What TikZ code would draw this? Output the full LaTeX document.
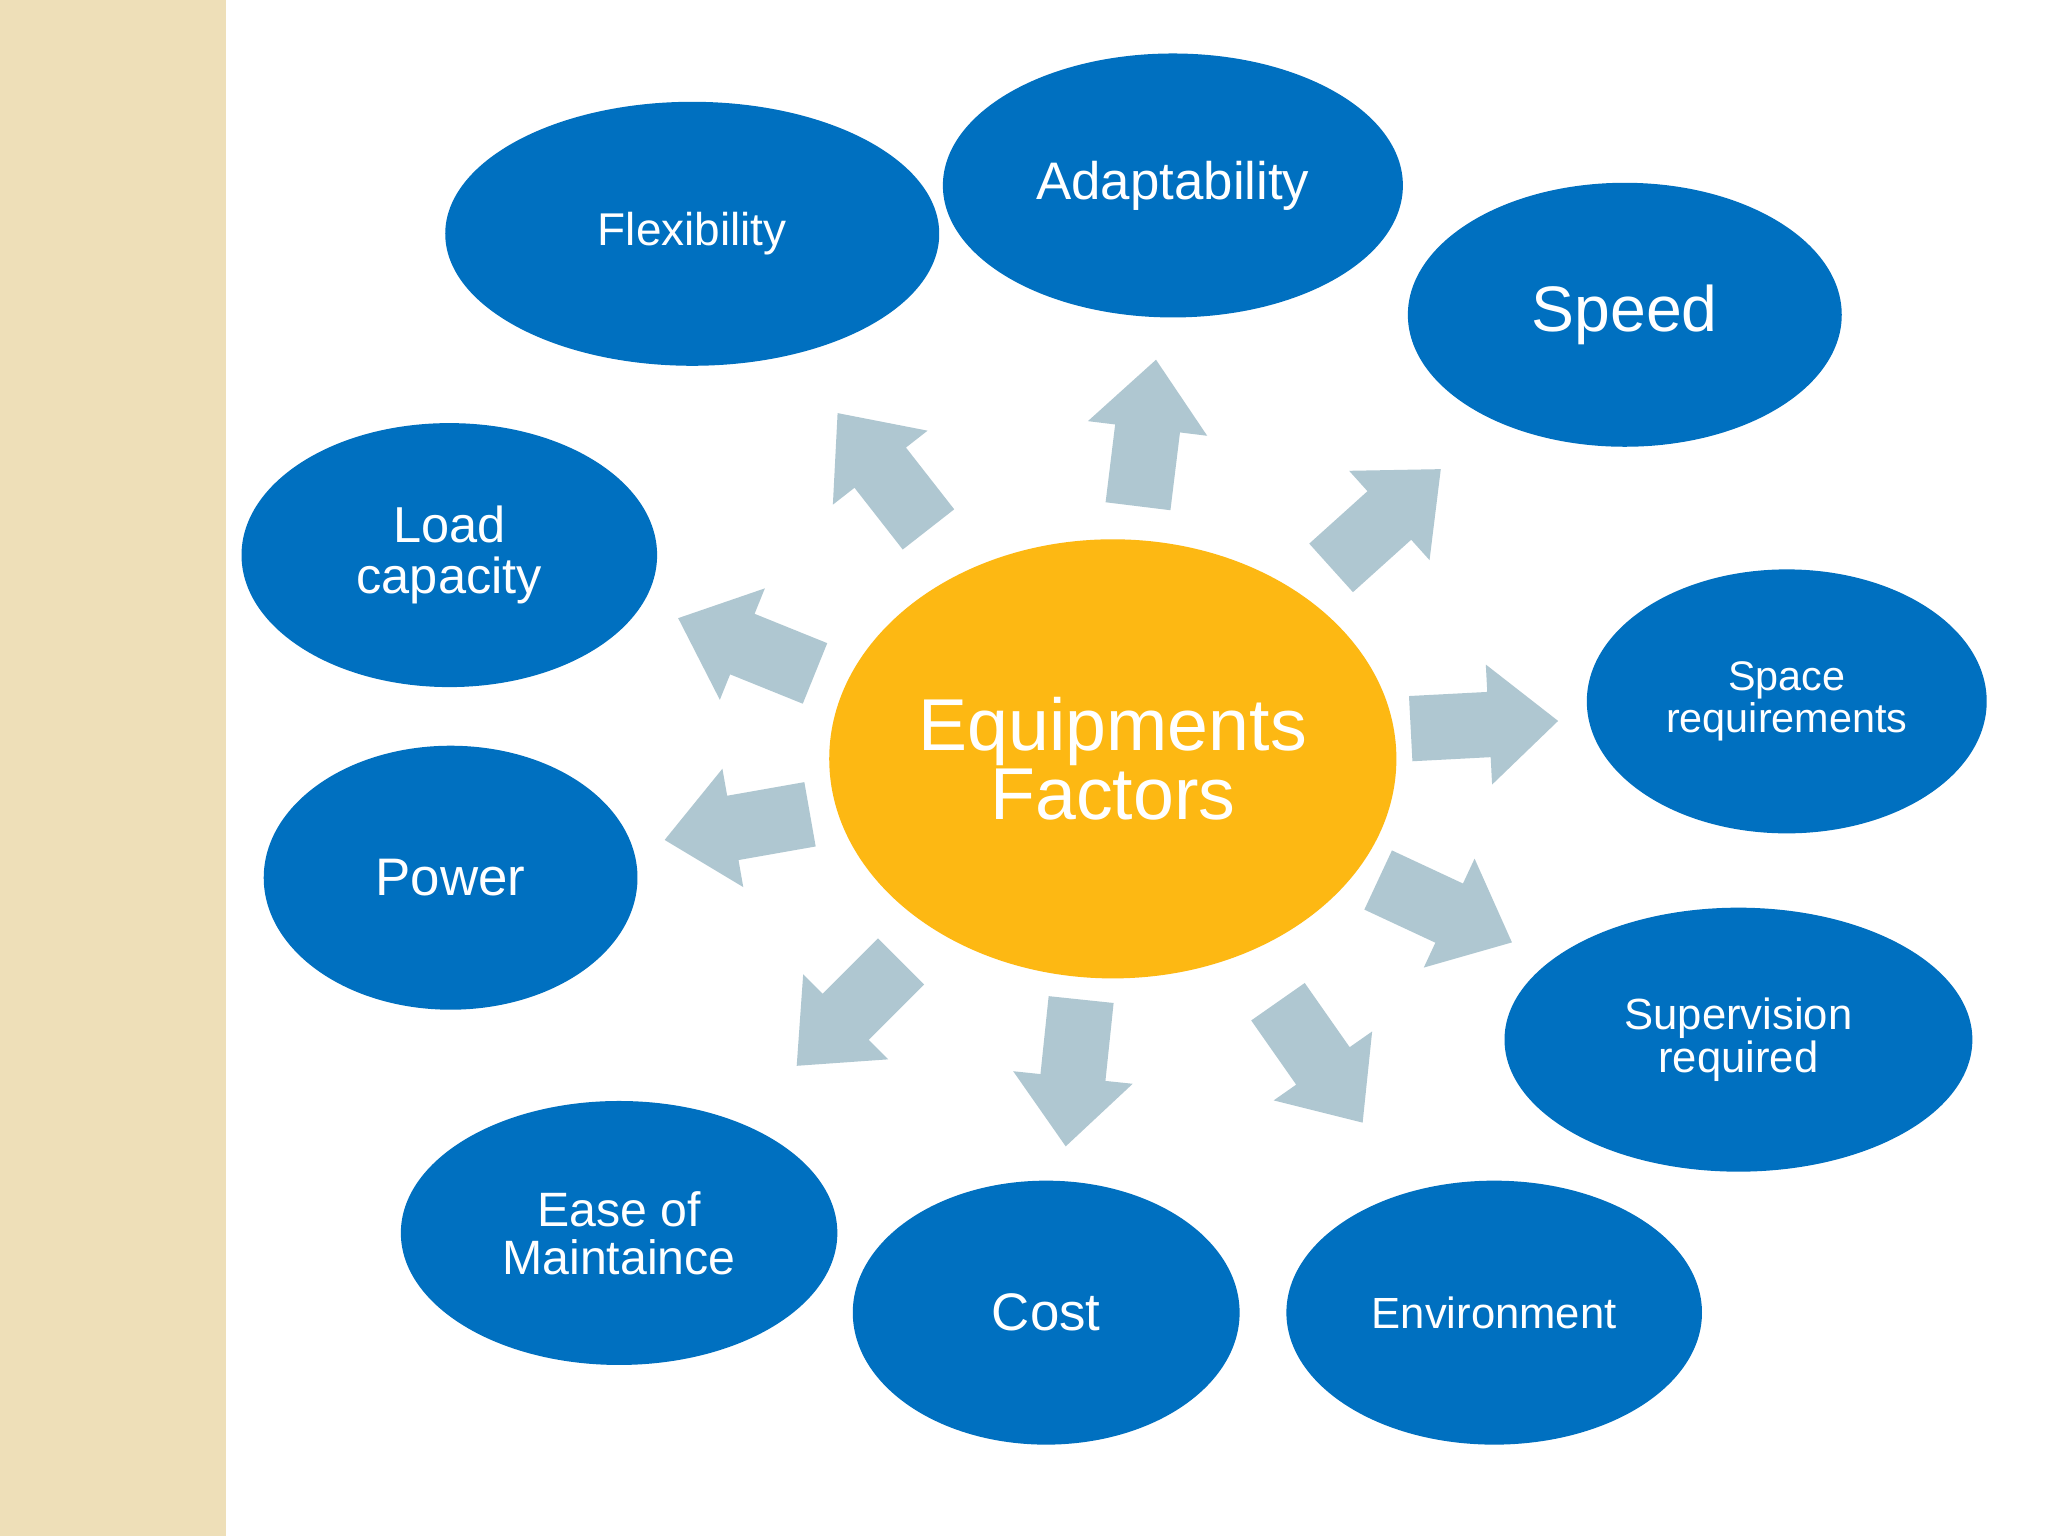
\documentclass[tikz,border=0pt]{standalone}
\usepackage{fontspec}
\setmainfont{Liberation Sans}
\usetikzlibrary{shapes.geometric}
\definecolor{bl}{HTML}{0070C0}
\definecolor{og}{HTML}{FDB813}
\definecolor{ar}{HTML}{AFC7D1}
\definecolor{bg}{HTML}{EEDFB8}
\newcommand\barrow[3]{\fill[arr,shift={(#1,#2)},rotate=#3] (-55,-25)--(5,-25)--(5,-46)--(58,0)--(5,46)--(5,25)--(-55,25)--cycle;}
\begin{document}
\begin{tikzpicture}[x=0.01cm,y=-0.01cm,
  el/.style={ellipse,fill=bl,text=white,align=center,inner sep=0pt,minimum height=2.02cm,font=\fontsize{#1}{#1}\selectfont},
  arr/.style={fill=ar}]
\fill[white] (0,0) rectangle (1568,1176);
\fill[bg] (0,0) rectangle (173,1176);
\node[el=10, minimum width=3.78cm] (flex) at (530,179) {Flexibility};
\node[el=11.5, minimum width=3.52cm] (adap) at (898,142) {Adaptability};
\node[el=14, minimum width=3.32cm] (speed) at (1244,241) {Speed};
\node[el=11, minimum width=3.18cm] (load) at (344,425) {Load\\capacity};
\node[el=9, minimum width=3.06cm] (space) at (1368,537) {Space\\requirements};
\node[el=11.5, minimum width=2.86cm] (power) at (345,672) {Power};
\node[el=9.5, minimum width=3.58cm] (sup) at (1331,796) {Supervision\\required};
\node[el=10.5, minimum width=3.34cm] (ease) at (474,944) {Ease of\\Maintaince};
\node[el=11.5, minimum width=2.96cm] (cost) at (801,1005) {Cost};
\node[el=9.5, minimum width=3.18cm] (env) at (1144,1005) {Environment};
\node[ellipse,fill=og,text=white,align=center,inner sep=0pt,minimum width=4.34cm,minimum height=3.36cm,font=\fontsize{16}{15}\selectfont] (c) at (852,581) {Equipments\\Factors};
\barrow{677}{362}{128}
\barrow{878}{333}{83}
\barrow{1060}{398}{42}
\barrow{573}{495}{158}
\barrow{1135}{555}{3}
\barrow{566}{633}{190}
\barrow{1105}{697}{-25}
\barrow{651}{775}{225}
\barrow{822}{820}{-96}
\barrow{1010}{812}{-55}
\end{tikzpicture}
\end{document}
